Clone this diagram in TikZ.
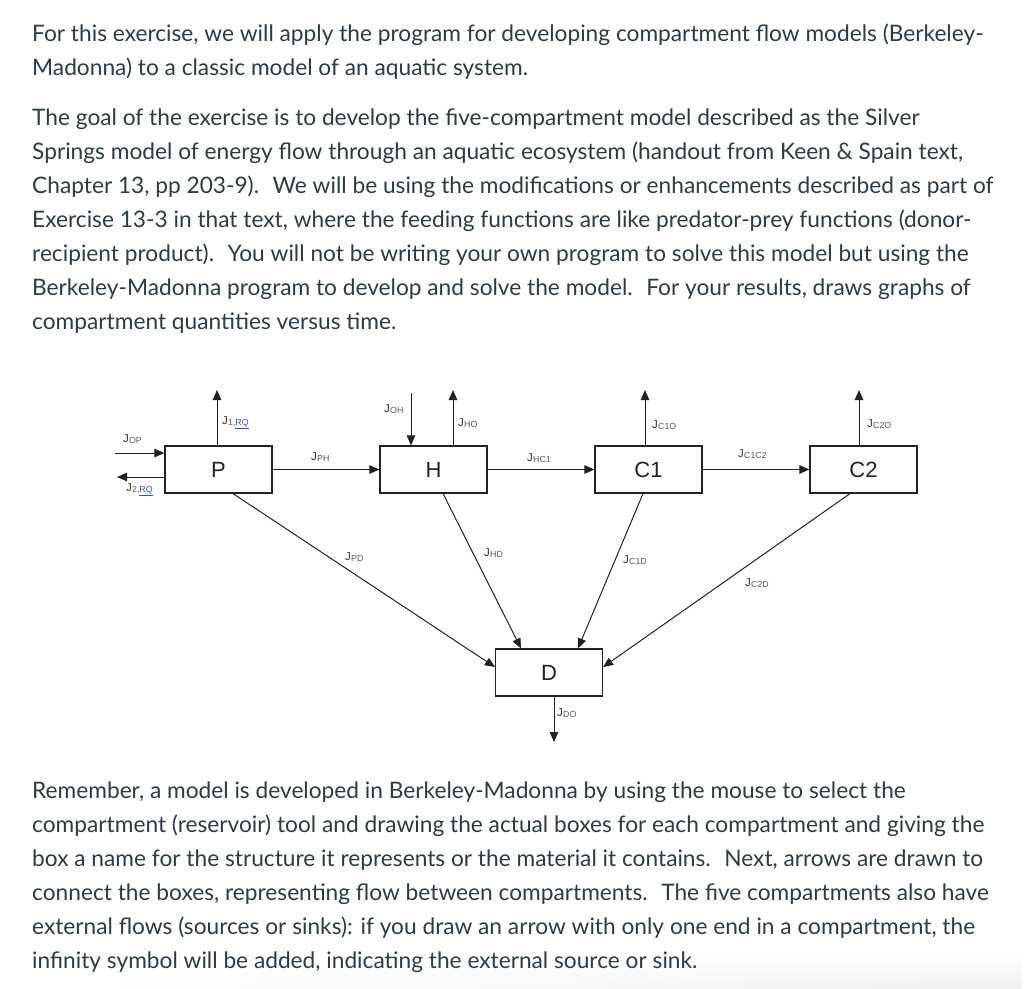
\documentclass[tikz,border=0pt]{standalone}
\usepackage{fontspec}
\setmainfont{Lato}
\newfontfamily\arialf{Liberation Sans}
\usepackage{tikz}
\usetikzlibrary{arrows.meta,positioning,calc,fadings}
\definecolor{ink}{HTML}{2D3B45}
\definecolor{edge}{HTML}{222222}
\definecolor{lbl}{HTML}{333333}
\definecolor{sub}{HTML}{5A5A5A}
\definecolor{spell}{HTML}{2B4FE0}
\newcommand{\flux}[1]{J\kern0.2pt\raisebox{-1pt}{\fontsize{8.8}{9}\selectfont\color{sub}#1}}
\newcommand{\rqflux}[1]{\flux{#1,\color{spell}\underline{RQ}}}

\begin{document}
\begin{tikzpicture}[x=1pt,y=-1pt,>=Latex,
 c/.style={draw=edge,line width=1.2pt,fill=white,minimum width=107pt,minimum height=47pt,inner sep=0pt,font=\arialf\fontsize{22}{24}\selectfont,text=edge},
 ar/.style={-{Triangle[length=10pt,width=8.5pt]},line width=1pt,draw=edge},
 fl/.style={anchor=west,inner sep=0pt,font=\arialf\fontsize{11.5}{12}\selectfont,text=lbl},
 para/.style={anchor=north west,inner sep=0pt,align=left,font=\fontsize{22.7}{34}\selectfont,text=ink}]
 \useasboundingbox (0,0) rectangle (1024,988);
 \fill[white] (0,0) rectangle (1024,988);
 \shade[top color=white,bottom color=black!6,path fading=west] (120,958) rectangle (1024,988);
 % text above and below the diagram
 \node[para] (intro) at (32,23.5) {For this exercise, we will apply the program for developing compartment flow models (Berkeley-\\
 Madonna) to a classic model of an aquatic system.};
 \node[para] (goal) at (32,108.5) {The goal of the exercise is to develop the five-compartment model described as the Silver\\
 Springs model of energy flow through an aquatic ecosystem (handout from Keen \& Spain text,\\
 Chapter 13, pp 203-9).~ We will be using the modifications or enhancements described as part of\\
 Exercise 13-3 in that text, where the feeding functions are like predator-prey functions (donor-\\
 recipient product).~ You will not be writing your own program to solve this model but using the\\
 Berkeley-Madonna program to develop and solve the model.~ For your results, draws graphs of\\
 compartment quantities versus time.};
 \node[para] (remember) at (32,781.5) {Remember, a model is developed in Berkeley-Madonna by using the mouse to select the\\
 compartment (reservoir) tool and drawing the actual boxes for each compartment and giving the\\
 box a name for the structure it represents or the material it contains.~ Next, arrows are drawn to\\
 connect the boxes, representing flow between compartments.~ The five compartments also have\\
 external flows (sources or sinks): if you draw an arrow with only one end in a compartment, the\\
 infinity symbol will be added, indicating the external source or sink.};
 % compartments
 \node[c] (P) at (218.5,469.5) {P};
 \node[c] (H) at (433.5,469.5) {H};
 \node[c] (C1) at (648.5,469.5) {C1};
 \node[c] (C2) at (863.5,469.5) {C2};
 \node[c] (D) at (549,672.5) {D};
 % outside sources and sinks
 \coordinate (opsrc) at (115,453);
 \coordinate (p2sink) at (117,477);
 \coordinate (p1sink) at (217,390);
 \coordinate (ohsrc) at (411,393);
 \coordinate (hosink) at (453,390);
 \coordinate (c1sink) at (645,390);
 \coordinate (c2sink) at (859,390);
 \coordinate (dosink) at (554,742);
 \draw[ar] (opsrc) -- (opsrc -| P.west);
 \draw[ar] (p2sink -| P.west) -- (p2sink);
 \draw[ar] (p1sink |- P.north) -- (p1sink);
 \draw[ar] (ohsrc) -- (ohsrc |- H.north);
 \draw[ar] (hosink |- H.north) -- (hosink);
 \draw[ar] (c1sink |- C1.north) -- (c1sink);
 \draw[ar] (c2sink |- C2.north) -- (c2sink);
 \draw[ar] (dosink |- D.south) -- (dosink);
 % flows between compartments
 \foreach \x/\y in {P/H,H/C1,C1/C2} \draw[ar] (\x) -- (\y);
 \draw[ar] ([xshift=14.5pt]P.south) -- ([yshift=5.5pt]D.west);
 \draw[ar] ([xshift=9.5pt]H.south) -- ([xshift=-28pt]D.north);
 \draw[ar] ([xshift=-5.5pt]C1.south) -- ([xshift=29pt]D.north);
 \draw[ar] ([xshift=-13.5pt]C2.south) -- ([yshift=5.5pt]D.east);
 % flux labels
 \node[fl] (lop) at (123,439) {\flux{OP}};
 \node[fl] (l1rq) at (222,423) {\rqflux{1}};
 \node[fl] (l2rq) at (126,490) {\rqflux{2}};
 \node[fl] (lph) at (311,457) {\flux{PH}};
 \node[fl] (loh) at (384,409) {\flux{OH}};
 \node[fl] (lho) at (458,423) {\flux{HO}};
 \node[fl] (lhc1) at (527,458) {\flux{HC1}};
 \node[fl] (lc1o) at (652,425) {\flux{C1O}};
 \node[fl] (lc1c2) at (738,454) {\flux{C1C2}};
 \node[fl] (lc2o) at (867,424) {\flux{C2O}};
 \node[fl] (lpd) at (345,557) {\flux{PD}};
 \node[fl] (lhd) at (484,553) {\flux{HD}};
 \node[fl] (lc1d) at (623,560) {\flux{C1D}};
 \node[fl] (lc2d) at (745,583) {\flux{C2D}};
 \node[fl] (ldo) at (557,713) {\flux{DO}};
\end{tikzpicture}
\end{document}
